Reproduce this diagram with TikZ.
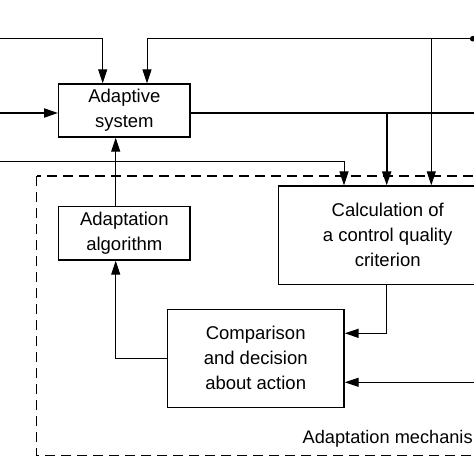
\documentclass[tikz,border=0pt]{standalone}
\usepackage{fontspec}
\setmainfont{Liberation Sans}
\usetikzlibrary{arrows.meta}
\begin{document}
\begin{tikzpicture}[x=1pt,y=-1pt,
  box/.style={draw,line width=1.3pt,inner sep=0pt,align=center,font=\fontsize{18.5}{25}\selectfont},
  arr/.style={-{Triangle[length=14pt,width=9pt]}},
  thinline/.style={line width=1pt},
  mainline/.style={line width=2pt},
  lbl/.style={font=\fontsize{18.2}{25}\selectfont,inner sep=0pt}]
\path[use as bounding box] (0,0) rectangle (474,474);
\clip (0,0) rectangle (474,474);
% boxes
\node[box,minimum width=131.3pt,minimum height=53pt] (sys) at (124.35,110.5) {Adaptive\\system};
\node[box,minimum width=131.3pt,minimum height=53.3pt] (algo) at (124.35,233.3) {Adaptation\\algorithm};
\node[box,minimum width=218.7pt,minimum height=98.7pt] (calc) at (387.7,235.35) {Calculation of\\a control quality\\criterion};
\node[box,minimum width=176.7pt,minimum height=98pt] (comp) at (255.7,358.3) {Comparison\\and decision\\about action};
% dashed frame
\draw[dashed,line width=1.3pt,dash pattern=on 10pt off 6pt] (36.7,176) rectangle (495,455.7);
\node[lbl,anchor=base west] (mech) at (302.5,443) {Adaptation mechanis};
% outer coordinates
\coordinate (t1) at (0,38.7);
\coordinate (dot) at (472.7,38.7);
\coordinate (in2) at (0,113);
\coordinate (out) at (474,113);
\coordinate (in3) at (0,161);
\coordinate (in4) at (474,382.3);
% connectors
\draw[thinline,arr] (t1) -| ([xshift=-21.65pt]sys.north);
\draw[thinline,arr] (dot) -| ([xshift=22.65pt]sys.north);
\fill (dot) circle (2.8pt);
\draw[thinline,arr] ([xshift=43.6pt]calc.north |- dot) -- ([xshift=43.6pt]calc.north);
\draw[mainline,arr] (in2) -- (sys.west |- in2);
\draw[mainline] (sys.east |- in2) -- (out);
\draw[mainline,arr] ([xshift=-1pt]calc.north |- out) -- ([xshift=-1pt]calc.north);
\draw[thinline,arr] (in3) -| ([xshift=-43.7pt]calc.north);
\draw[thinline,arr] ([xshift=-8.65pt]algo.north) -- ([xshift=-8.65pt]sys.south);
\draw[thinline,arr] (comp.west) -| ([xshift=-8.65pt]algo.south);
\draw[line width=1.5pt,arr] ([xshift=-1pt]calc.south) |- ([yshift=25pt]comp.east);
\draw[thinline,arr] (in4) -- (comp.east |- in4);
\end{tikzpicture}
\end{document}
